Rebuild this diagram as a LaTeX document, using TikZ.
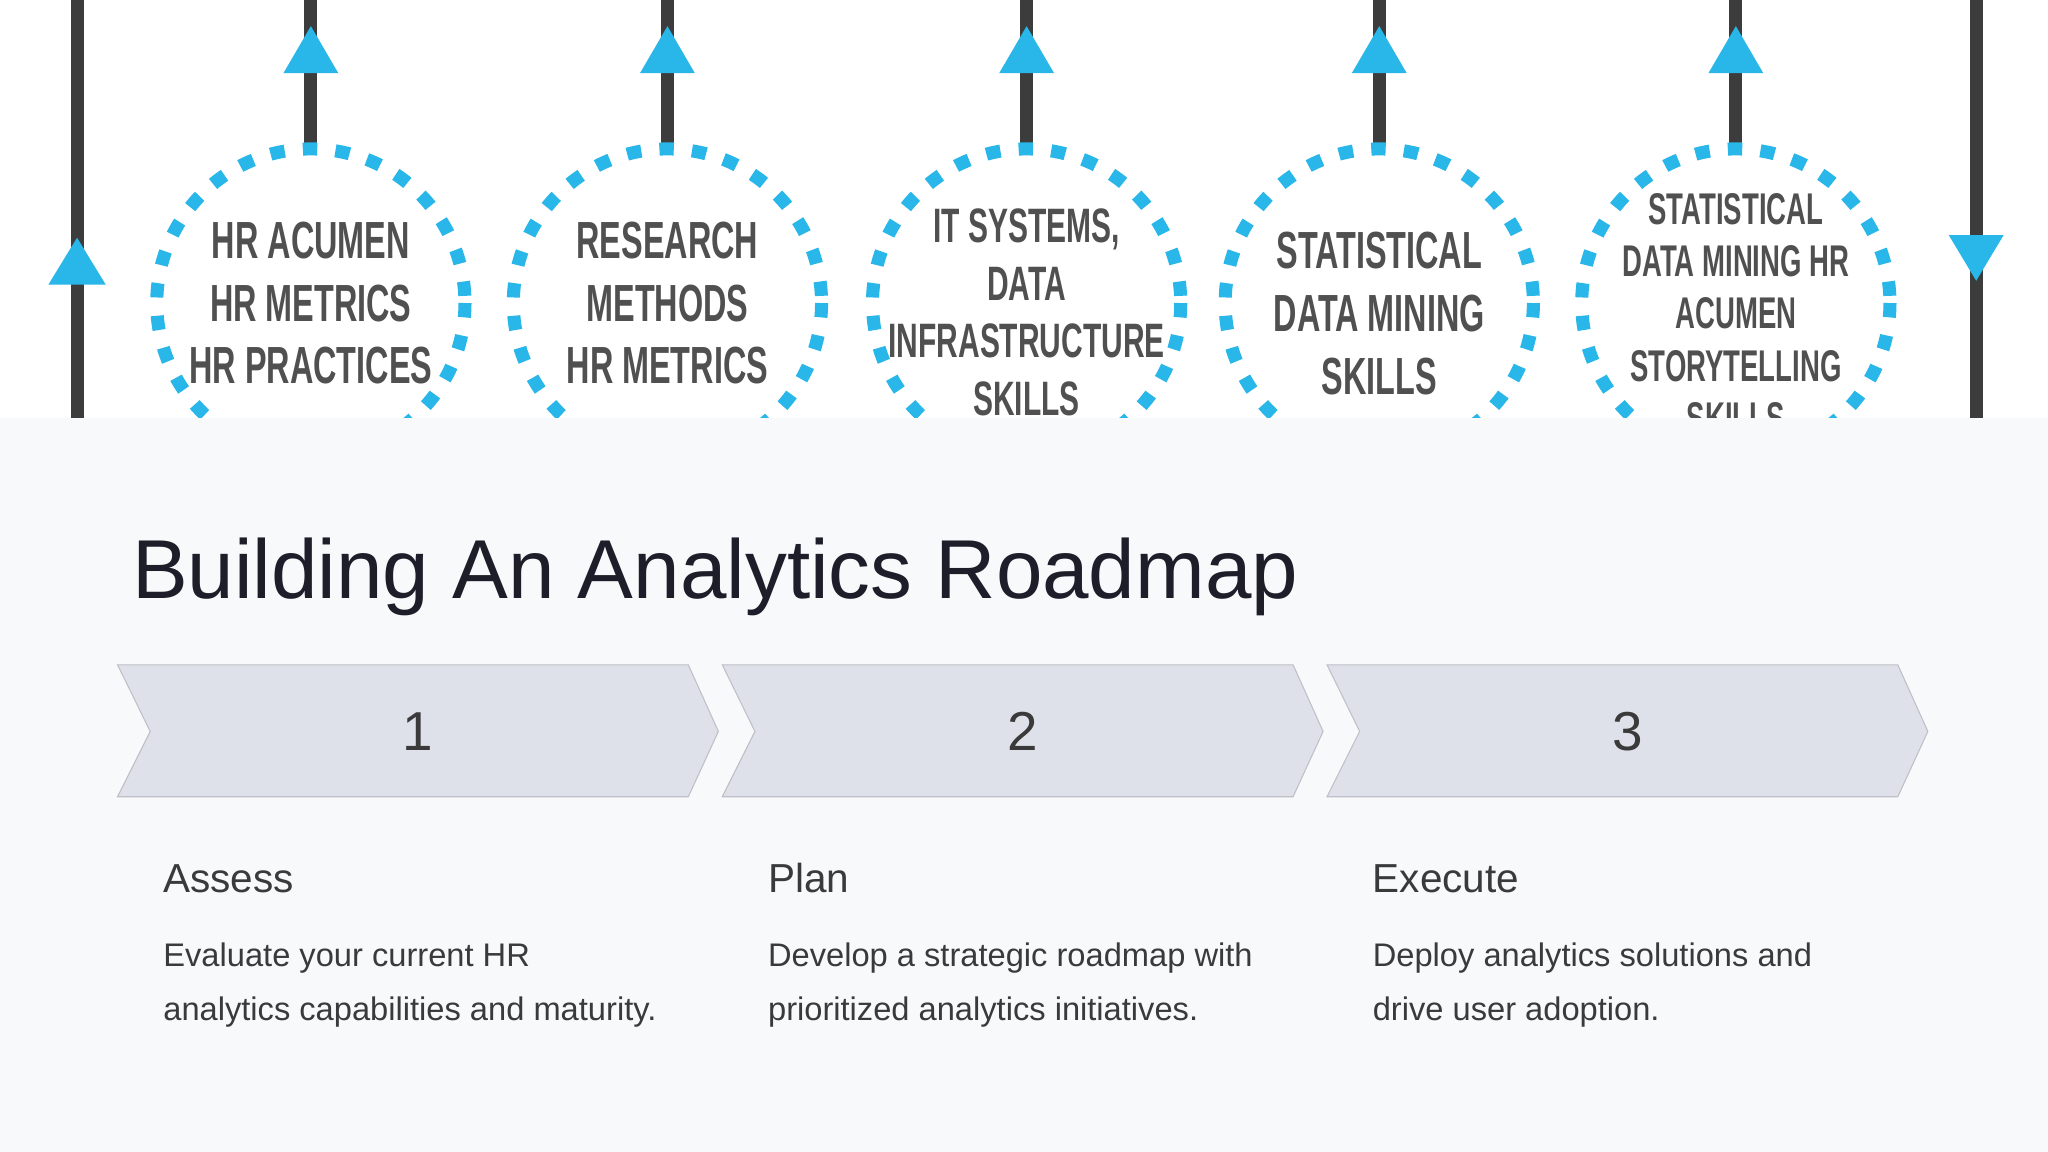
\documentclass[tikz,border=0pt]{standalone}
\usepackage{fontspec}
\setmainfont{Liberation Sans}
\usetikzlibrary{calc}
\definecolor{cyanc}{HTML}{29B6E8}
\definecolor{barc}{HTML}{3C3C3C}
\definecolor{bgc}{HTML}{F8F9FA}
\definecolor{chevc}{HTML}{DFE1EA}
\definecolor{toptxt}{HTML}{505050}
\definecolor{titlec}{HTML}{1E1E2A}
\definecolor{bodyc}{HTML}{3A3A3A}
\newcommand{\nar}[1]{\scalebox{0.62}[1]{#1}}
\tikzset{
  ring/.style={draw=cyanc,line width=5pt,dash pattern=on 5.5pt off 7pt},
  bar/.style={draw=barc,line width=5pt},
  tri/.style={fill=cyanc},
  toplab/.style={text=toptxt,align=center,font=\bfseries\fontsize{20}{24}\selectfont},
  chev/.style={fill=chevc,draw=chevc!85!black,line width=0.4pt},
  num/.style={text=bodyc,font=\fontsize{21}{24}\selectfont},
  head/.style={text=bodyc,anchor=base west,font=\fontsize{15.5}{18}\selectfont},
  body/.style={text=bodyc,anchor=north west,align=left,font=\fontsize{12.5}{20.5}\selectfont},
}
\begin{document}
\begin{tikzpicture}[x=0.5pt,y=-0.5pt]
\useasboundingbox (0,0) rectangle (1568,882);
\fill[white] (0,0) rectangle (1568,320);
\fill[bgc] (0,320) rectangle (1568,882);
\begin{scope}
\clip (0,0) rectangle (1568,320);
\draw[bar] (59,0) -- (59,320);
\draw[bar] (1513,0) -- (1513,320);
\fill[tri] (37,218) -- (59,182) -- (81,218) -- cycle;
\fill[tri] (1492,180) -- (1513,215) -- (1534,180) -- cycle;
\foreach \x/\n in {238/a,511/b,786/c,1056/d,1329/e}{
  \draw[bar] (\x,0) -- (\x,112);
  \fill[tri] (\x-21,56) -- (\x,20) -- (\x+21,56) -- cycle;
  \draw[ring] (\x,232) circle[radius=118];
}
\node[toplab] (ta) at (238,232) {\nar{HR ACUMEN}\\\nar{HR METRICS}\\\nar{HR PRACTICES}};
\node[toplab] (tb) at (511,232) {\nar{RESEARCH}\\\nar{METHODS}\\\nar{HR METRICS}};
\node[toplab,font=\bfseries\fontsize{18.5}{22}\selectfont] (tc) at (786,239) {\nar{IT SYSTEMS,}\\\nar{DATA}\\\nar{INFRASTRUCTURE}\\\nar{SKILLS}};
\node[toplab] (td) at (1056,240) {\nar{STATISTICAL}\\\nar{DATA MINING}\\\nar{SKILLS}};
\node[toplab,font=\bfseries\fontsize{17}{20}\selectfont] (te) at (1329,240) {\nar{STATISTICAL}\\\nar{DATA MINING HR}\\\nar{ACUMEN}\\\nar{STORYTELLING}\\\nar{SKILLS}};
\end{scope}
\node[anchor=base west,text=titlec,font=\fontsize{32}{36}\selectfont] (title) at (94,458) {Building An Analytics Roadmap};
\foreach \x/\n/\t in {90/1/c1,553/2/c2,1016/3/c3}{
  \draw[chev] (\x,509) -- (\x+437,509) -- (\x+460,560) -- (\x+437,610) -- (\x,610) -- (\x+25,560) -- cycle;
  \node[num] (\t) at (\x+230,560) {\n};
}
\node[head] (h1) at (118,683) {Assess};
\node[head] (h2) at (581,683) {Plan};
\node[head] (h3) at (1044,683) {Execute};
\node[body] (b1) at (118,715) {Evaluate your current HR\\analytics capabilities and maturity.};
\node[body] (b2) at (581,715) {Develop a strategic roadmap with\\prioritized analytics initiatives.};
\node[body] (b3) at (1044,715) {Deploy analytics solutions and\\drive user adoption.};
\end{tikzpicture}
\end{document}
